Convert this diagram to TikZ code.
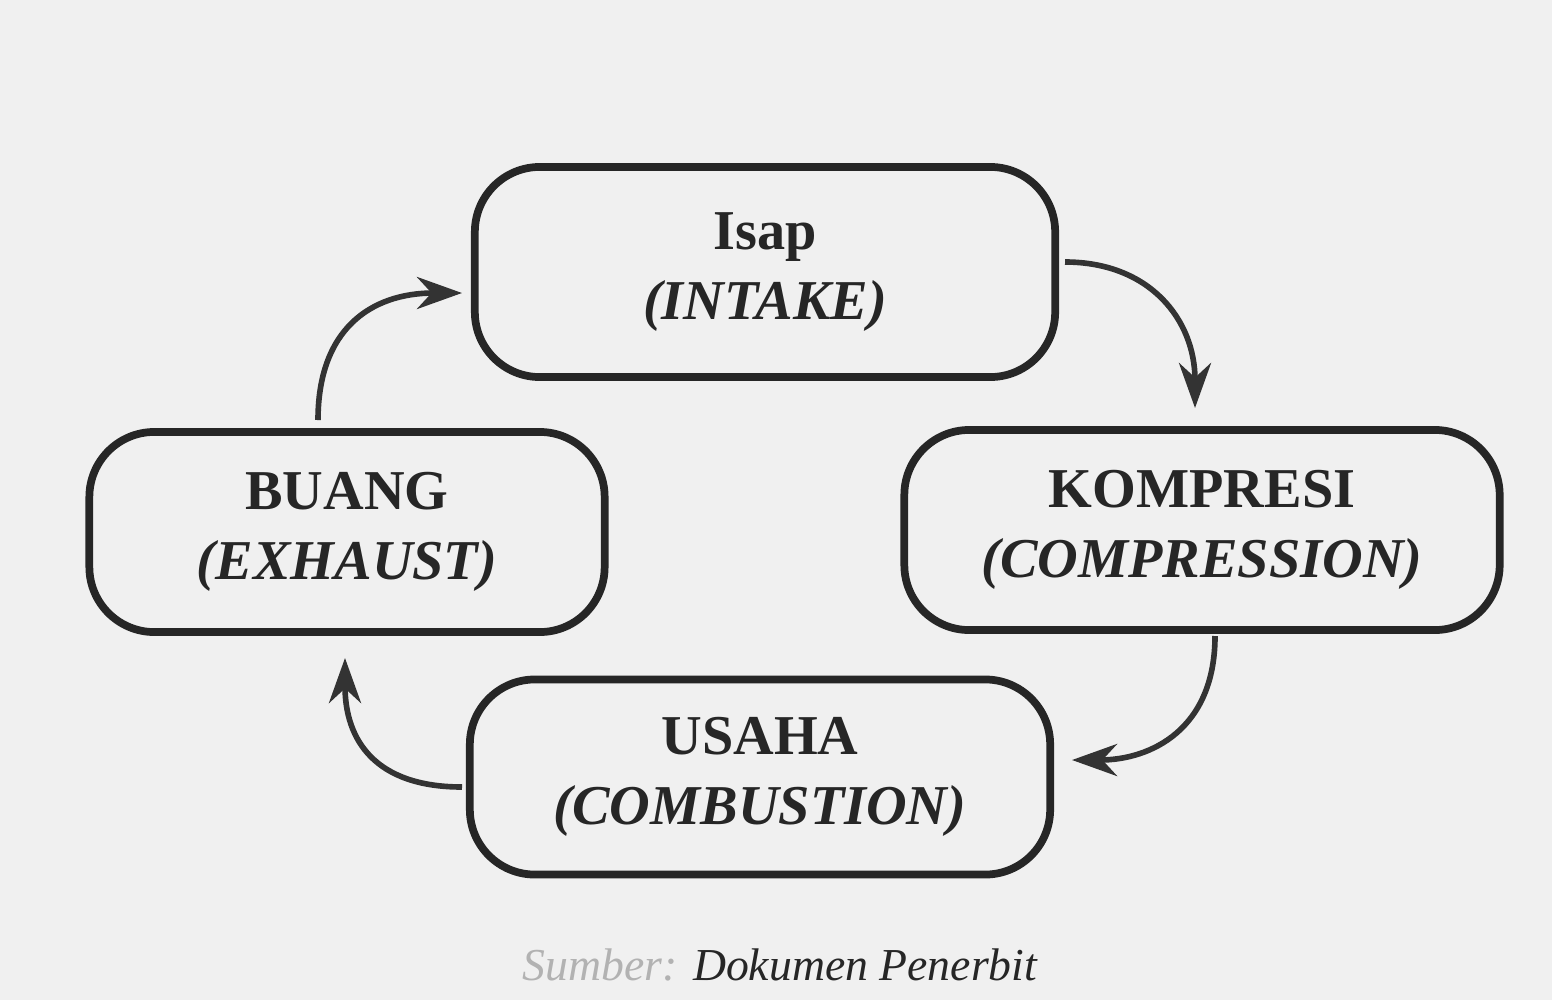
\documentclass[tikz,border=0pt]{standalone}
\usepackage{fontspec}
\setmainfont{Liberation Serif}
\usetikzlibrary{arrows.meta}
\begin{document}
\begin{tikzpicture}[x=0.01cm,y=-0.01cm,
  box/.style={draw=black!85,line width=2.2pt,rounded corners=0.65cm,align=center,font=\fontsize{16}{20}\selectfont\bfseries,text=black!85},
  arr/.style={draw=black!80,line width=1.6pt,-{Stealth[length=0.45cm,width=0.32cm]}}]
\fill[black!6] (0,0) rectangle (1552,1000);
\useasboundingbox (0,0) rectangle (1552,1000);
\node[box,minimum width=5.8cm,minimum height=2.1cm] (isap) at (765,272) {Isap\\\textit{(INTAKE)}};
\node[box,minimum width=5.95cm,minimum height=2.0cm] (komp) at (1202,530) {KOMPRESI\\\textit{(COMPRESSION)}};
\node[box,minimum width=5.8cm,minimum height=1.95cm] (usaha) at (760,777) {USAHA\\\textit{(COMBUSTION)}};
\node[box,minimum width=5.15cm,minimum height=2.0cm] (buang) at (347,532) {BUANG\\\textit{(EXHAUST)}};
\coordinate (a1) at (1065,262); \coordinate (a2) at (1195,408);
\coordinate (b1) at (1215,636); \coordinate (b2) at (1072,760);
\coordinate (c1) at (462,787); \coordinate (c2) at (345,658);
\coordinate (d1) at (318,420); \coordinate (d2) at (462,293);
\draw[arr] (a1) .. controls (1150,262) and (1195,320) .. (a2);
\draw[arr] (b1) .. controls (1215,730) and (1150,760) .. (b2);
\draw[arr] (c1) .. controls (375,787) and (345,740) .. (c2);
\draw[arr] (d1) .. controls (318,330) and (370,293) .. (d2);
\node[font=\fontsize{13}{16}\selectfont\itshape] (cap) at (780,965) {\textcolor{black!30}{Sumber:} \textcolor{black!85}{Dokumen Penerbit}};
\end{tikzpicture}
\end{document}
